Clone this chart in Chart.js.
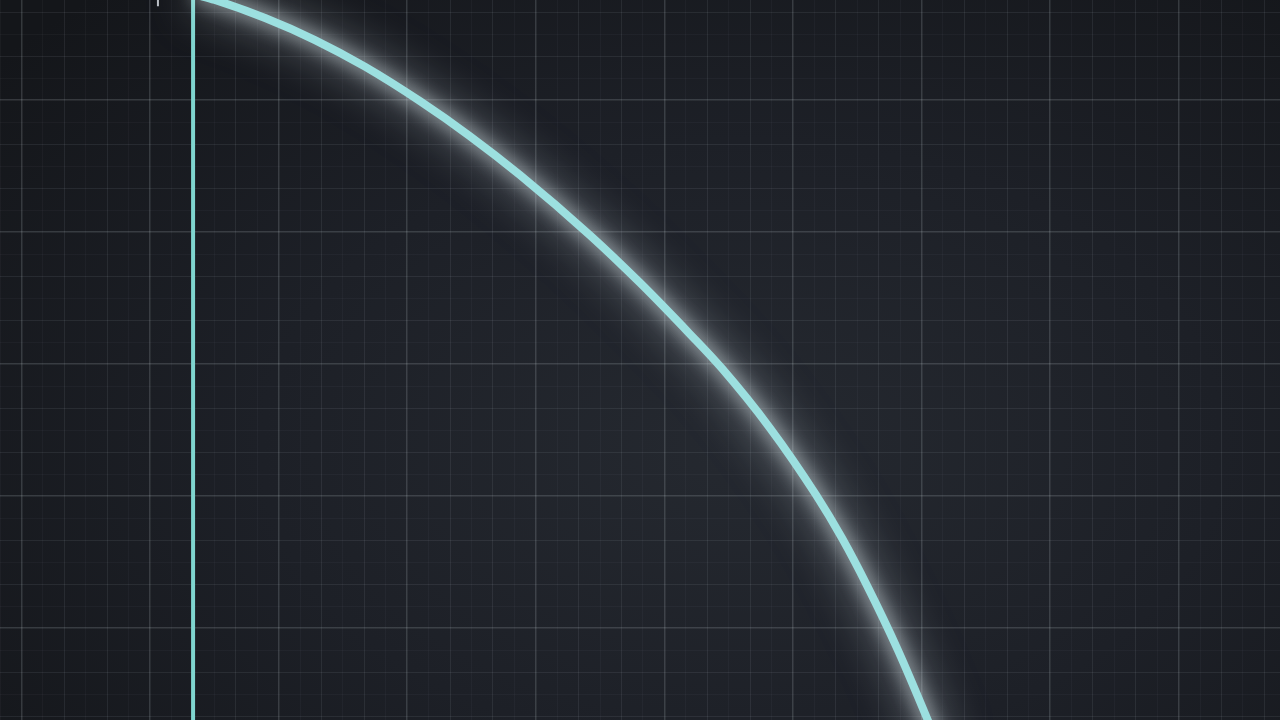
<!DOCTYPE html>
<html>
<head>
<meta charset="utf-8">
<script src="https://cdn.jsdelivr.net/npm/chart.js@4.4.1/dist/chart.umd.min.js"></script>
<style>
  html, body { margin: 0; padding: 0; overflow: hidden; }
  body {
    width: 1280px; height: 720px;
    background: radial-gradient(ellipse 75% 85% at 58% 62%, #252930 0%, #1d2027 50%, #14161a 100%);
  }
  #wrap { width: 1280px; height: 720px; position: relative; }
</style>
</head>
<body>
<div id="wrap"><canvas id="chart"></canvas></div>
<script>
// curve (grid units: one fine grid step = 1)
const curveX = [9.10, 10.03, 12.37, 14.70, 17.03, 19.60, 21.93, 24.27, 27.53, 29.86, 32.20, 33.69, 35.93, 38.08, 39.29, 40.46, 41.90, 43.30, 43.86];
const curveY = [32.80, 32.55, 31.73, 30.73, 29.52, 27.95, 26.36, 24.59, 21.86, 19.70, 17.36, 15.80, 13.09, 10.05, 8.09, 5.93, 3.00, -0.20, -1.55];

// vertical axis line and the small mark at the top
const axisLineX = [9.01, 9.01];
const axisLineY = [-1, 34];
const markX = [7.37, 7.37];
const markY = [32.6, 32.27];

// grid
const xMin = 0, xMax = 59.73;
const yMin = -0.18, yMax = 32.55;
const xGridLines = Array.from({ length: 60 }, (_, i) => i);
const yGridLines = Array.from({ length: 33 }, (_, i) => i);

function toPoints(xs, ys) {
  return xs.map((x, i) => ({ x: x, y: ys[i] }));
}

function gridColor(value, majorRest) {
  if (value % 6 === majorRest) return 'rgba(200,208,218,0.18)';
  if (value % 2 === majorRest % 2) return 'rgba(190,198,210,0.095)';
  return 'rgba(180,190,205,0.045)';
}

// soft glow: the halo line is drawn off-canvas, only its shadow lands on the chart
const SHIFT = 4000;
const glowPlugin = {
  id: 'glow',
  beforeDatasetDraw(chart, args) {
    const ds = chart.data.datasets[args.index];
    if (!ds.glow) return;
    const ctx = chart.ctx;
    ctx.save();
    ctx.shadowColor = ds.glow.color;
    ctx.shadowBlur = ds.glow.blur;
    if (ds.glow.shadowOnly) {
      ctx.translate(-SHIFT, 0);
      ctx.shadowOffsetX = SHIFT;
    }
  },
  afterDatasetDraw(chart, args) {
    if (chart.data.datasets[args.index].glow) chart.ctx.restore();
  }
};

const config = {
  type: 'scatter',
  data: {
    datasets: [
      {
        label: 'halo',
        data: toPoints(curveX, curveY),
        showLine: true,
        clip: false,
        borderColor: '#ffffff',
        borderWidth: 18,
        pointRadius: 0,
        cubicInterpolationMode: 'monotone',
        glow: { color: 'rgba(215,228,235,0.55)', blur: 45, shadowOnly: true }
      },
      {
        label: 'curve',
        data: toPoints(curveX, curveY),
        showLine: true,
        borderColor: '#90dfde',
        borderWidth: 8,
        pointRadius: 0,
        cubicInterpolationMode: 'monotone',
        glow: { color: 'rgba(230,242,245,0.9)', blur: 18 }
      },
      {
        label: 'axis',
        data: toPoints(axisLineX, axisLineY),
        showLine: true,
        borderColor: '#7fd5cf',
        borderWidth: 4,
        pointRadius: 0
      },
      {
        label: 'mark',
        data: toPoints(markX, markY),
        showLine: true,
        borderColor: 'rgba(230,235,240,0.8)',
        borderWidth: 2,
        pointRadius: 0
      }
    ]
  },
  options: {
    animation: false,
    responsive: true,
    maintainAspectRatio: false,
    layout: { padding: 0 },
    plugins: {
      legend: { display: false },
      tooltip: { enabled: false },
      title: { display: false }
    },
    scales: {
      x: {
        type: 'linear',
        min: xMin, max: xMax,
        afterBuildTicks: scale => { scale.ticks = xGridLines.map(v => ({ value: v })); },
        ticks: { display: false },
        border: { display: false },
        grid: {
          drawTicks: false,
          color: ctx => gridColor(ctx.tick.value, 1),
          lineWidth: ctx => (ctx.tick.value % 6 === 1 ? 1.5 : 1)
        }
      },
      y: {
        type: 'linear',
        min: yMin, max: yMax,
        afterBuildTicks: scale => { scale.ticks = yGridLines.map(v => ({ value: v })); },
        ticks: { display: false },
        border: { display: false },
        grid: {
          drawTicks: false,
          color: ctx => gridColor(ctx.tick.value, 4),
          lineWidth: ctx => (ctx.tick.value % 6 === 4 ? 1.5 : 1)
        }
      }
    }
  },
  plugins: [glowPlugin]
};

new Chart(document.getElementById('chart'), config);
</script>
</body>
</html>
